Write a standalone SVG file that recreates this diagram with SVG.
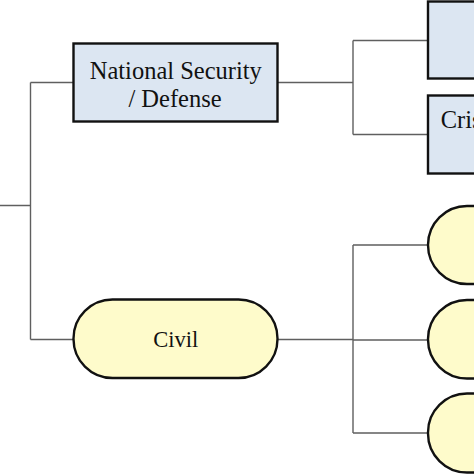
<svg xmlns="http://www.w3.org/2000/svg" width="474" height="474" viewBox="0 0 474 474">
<style>
.box{fill:#dce6f2;stroke:#111;stroke-width:2.4}
.pill{fill:#fefbcb;stroke:#111;stroke-width:2.4}
.lbl{font-family:"Liberation Serif","Times New Roman",serif;fill:#111;text-anchor:middle}
.conn{fill:none;stroke:#5f5f5f;stroke-width:1.4}
</style>
<rect width="474" height="474" fill="#ffffff"/>
<g id="connectors">
<path class="conn" d="M0 205.5H30.5M30.5 82.5V339.5M30.5 82.5H74M30.5 339.5H74"/>
<path class="conn" d="M278 82.5H353M353 40.5V134.5M353 40.5H428M353 134.5H428"/>
<path class="conn" d="M278 339.5H353M353 245V433M353 245H428M353 340H428M353 433H428"/>
</g>
<g id="root-left">
</g>
<g id="node-national-security">
<rect class="box" x="73.5" y="43.5" width="204" height="78"/>
<text class="lbl" font-size="24.5" x="175.8" y="79">National Security</text>
<text class="lbl" font-size="24.5" x="175" y="106.5">/ Defense</text>
</g>
<g id="node-top-right">
<rect class="box" x="428" y="1.5" width="60" height="77"/>
</g>
<g id="node-crisis">
<rect class="box" x="428" y="95.5" width="60" height="78"/>
<text class="lbl" font-size="24.5" x="440.7" y="127.7" text-anchor="start" style="text-anchor:start">Cris</text>
</g>
<g id="node-civil">
<rect class="pill" x="73.5" y="299.5" width="204" height="78.5" rx="39" ry="39"/>
<text class="lbl" font-size="22.5" x="175.8" y="347.3">Civil</text>
</g>
<g id="node-civil-1">
<rect class="pill" x="428" y="206" width="120" height="78" rx="39" ry="39"/>
</g>
<g id="node-civil-2">
<rect class="pill" x="428" y="300" width="120" height="78.5" rx="39" ry="39"/>
</g>
<g id="node-civil-3">
<rect class="pill" x="428" y="393.5" width="120" height="79" rx="39" ry="39"/>
</g>
</svg>
